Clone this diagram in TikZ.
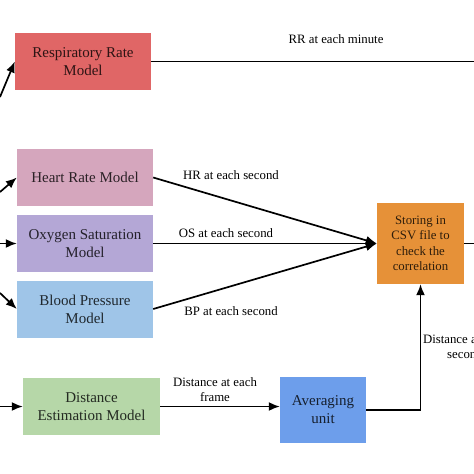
\documentclass[tikz,border=0pt]{standalone}
\usepackage{fontspec}
\setmainfont{Liberation Serif}
\usetikzlibrary{arrows.meta}
\definecolor{resp}{HTML}{E06666}
\definecolor{heart}{HTML}{D5A6BD}
\definecolor{oxygen}{HTML}{B4A7D6}
\definecolor{pressure}{HTML}{9FC5E8}
\definecolor{distance}{HTML}{B6D7A8}
\definecolor{average}{HTML}{6D9EEB}
\definecolor{storing}{HTML}{E69138}

\begin{document}
\begin{tikzpicture} [x=1pt,y=-1pt,
  model/.style= {shape=rectangle,minimum width=136pt,minimum height=57pt,inner sep=0,align=center,font=\fontsize{15}{18}\selectfont},
  tag/.style= {align=center,inner sep=0,font=\fontsize{12.8}{15}\selectfont},
  link/.style= {line width=1.7pt,-{Latex[length=11pt,width=9pt]}},
  wire/.style= {line width=1.7pt}]
  \useasboundingbox (0,0) rectangle (474,474);
  % Models
  {\node[model] [fill=resp,text=resp!20!black]         (rr) at (83,61.5)   {Respiratory Rate\\Model};}
  {\node[model] [fill=heart,text=heart!20!black]       (hr) at (85,177.5)  {Heart Rate Model};}
  {\node[model] [fill=oxygen,text=oxygen!20!black]     (os) at (85,243.5)  {Oxygen Saturation\\Model};}
  {\node[model] [fill=pressure,text=pressure!20!black] (bp) at (85,309)    {Blood Pressure\\Model};}
  {\node[model] [fill=distance,text=distance!20!black,minimum width=137pt] (de) at (91.5,406.5) {Distance\\Estimation Model};}
  {\node[model] [fill=average,text=average!20!black,minimum width=86pt,minimum height=66pt] (av) at (323,410) {Averaging\\unit};}
  {\node[model] [fill=storing,text=storing!20!black,minimum width=87pt,minimum height=81pt,font=\fontsize{12.8}{15.5}\selectfont] (st) at (420.5,243.5) {Storing in\\CSV file to\\check the\\correlation};}
  % Free ends
  \coordinate (inrr) at (0,97);
  \coordinate (inhr) at (0,192);
  \coordinate (inos) at (0,243.5);
  \coordinate (inbp) at (0,293);
  \coordinate (inde) at (0,406.5);
  \coordinate (outrr) at (474,61.5);
  \coordinate (outst) at (474,243.5);
  % Inputs
  \draw[link] (inrr) -- (rr.west);
  \draw[link] (inhr) -- (hr.west);
  \draw[link] (inos) -- (os.west);
  \draw[link] (inbp) -- (bp.west);
  \draw[link] (inde) -- (de.west);
  % Links
  \draw[wire] (rr.east) -- (outrr);
  \draw[link] (hr.east) -- (st.west);
  \draw[link] (os.east) -- (st.west);
  \draw[link] (bp.east) -- (st.west);
  \draw[link] (de.east) -- (de.east -| av.west);
  \draw[link] (av.east) -| (st.south);
  \draw[wire] (st.east) -- (outst);
  % Labels
  {\node[tag] (rrtag) at (336,39)  {RR at each minute};}
  {\node[tag] (hrtag) at (231,175) {HR at each second};}
  {\node[tag] (ostag) at (226,233) {OS at each second};}
  {\node[tag] (bptag) at (231,311) {BP at each second};}
  {\node[tag] (detag) at (215,390) {Distance at each\\frame};}
  {\node[tag] (avtag) at (465,347) {Distance at each\\second};}
\end{tikzpicture}
\end{document}
